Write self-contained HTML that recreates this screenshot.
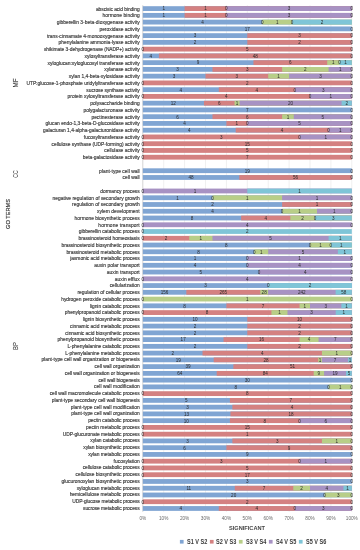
<!DOCTYPE html>
<html><head><meta charset="utf-8"><title>GO terms stacked bar chart</title>
<style>
html,body{margin:0;padding:0;background:#fff;}
body{width:360px;height:550px;overflow:hidden;position:relative;font-family:"Liberation Sans",Arial,sans-serif;}
.g{position:absolute;width:1px;background:#f0f0f0;}
.l{position:absolute;right:220.30px;white-space:nowrap;font-size:4.9px;line-height:5.9px;color:#3d3d3d;letter-spacing:-0.1px;-webkit-text-stroke:0.16px #3d3d3d;}
.b{position:absolute;height:4.8px;}
.d{position:absolute;font-size:4.6px;line-height:5.6px;color:#2a2a2a;white-space:nowrap;transform:translateX(-50%);}
.c0{background:#80a5d3;}.c1{background:#d48181;}.c2{background:#b8ce88;}.c3{background:#a792c3;}.c4{background:#7fc5d7;}
.rot{position:absolute;white-space:nowrap;transform:translate(-50%,-50%) rotate(-90deg);color:#404040;}
.tk{position:absolute;top:515.9px;font-size:4.7px;line-height:5px;color:#6a6a6a;transform:translateX(-50%);white-space:nowrap;}
.lg{position:absolute;top:539.7px;width:3.6px;height:3.6px;}
.lt{position:absolute;top:537.9px;font-size:6.3px;line-height:7px;color:#3a3a3a;font-weight:bold;white-space:nowrap;transform-origin:0 50%;transform:scaleX(0.88);}
</style></head><body>
<svg width="360" height="550" viewBox="0 0 360 550" style="position:absolute;left:0;top:0"><rect x="142.30" y="5.22" width="1" height="506.62" fill="#d4d4d4"/><rect x="163.20" y="5.22" width="1" height="506.62" fill="#f0f0f0"/><rect x="184.10" y="5.22" width="1" height="506.62" fill="#f0f0f0"/><rect x="205.00" y="5.22" width="1" height="506.62" fill="#f0f0f0"/><rect x="225.90" y="5.22" width="1" height="506.62" fill="#f0f0f0"/><rect x="246.80" y="5.22" width="1" height="506.62" fill="#f0f0f0"/><rect x="267.70" y="5.22" width="1" height="506.62" fill="#f0f0f0"/><rect x="288.60" y="5.22" width="1" height="506.62" fill="#f0f0f0"/><rect x="309.50" y="5.22" width="1" height="506.62" fill="#f0f0f0"/><rect x="330.40" y="5.22" width="1" height="506.62" fill="#f0f0f0"/><rect x="351.30" y="5.22" width="1" height="506.62" fill="#f0f0f0"/><rect x="142.80" y="6.20" width="209.00" height="4.8" fill="#80a5d3"/><rect x="184.60" y="6.20" width="167.20" height="4.8" fill="#d48181"/><rect x="226.40" y="6.20" width="125.40" height="4.8" fill="#a792c3"/><rect x="142.80" y="12.96" width="209.00" height="4.8" fill="#80a5d3"/><rect x="184.60" y="12.96" width="167.20" height="4.8" fill="#d48181"/><rect x="226.40" y="12.96" width="125.40" height="4.8" fill="#a792c3"/><rect x="142.80" y="19.71" width="209.00" height="4.8" fill="#80a5d3"/><rect x="262.23" y="19.71" width="89.57" height="4.8" fill="#b8ce88"/><rect x="292.09" y="19.71" width="59.71" height="4.8" fill="#7fc5d7"/><rect x="142.80" y="26.47" width="209.00" height="4.8" fill="#80a5d3"/><rect x="142.80" y="33.22" width="209.00" height="4.8" fill="#80a5d3"/><rect x="247.30" y="33.22" width="104.50" height="4.8" fill="#d48181"/><rect x="142.80" y="39.98" width="209.00" height="4.8" fill="#80a5d3"/><rect x="247.30" y="39.98" width="104.50" height="4.8" fill="#d48181"/><rect x="142.80" y="46.73" width="209.00" height="4.8" fill="#d48181"/><rect x="142.80" y="53.48" width="209.00" height="4.8" fill="#80a5d3"/><rect x="158.88" y="53.48" width="192.92" height="4.8" fill="#d48181"/><rect x="142.80" y="60.24" width="209.00" height="4.8" fill="#80a5d3"/><rect x="253.45" y="60.24" width="98.35" height="4.8" fill="#d48181"/><rect x="327.21" y="60.24" width="24.59" height="4.8" fill="#b8ce88"/><rect x="339.51" y="60.24" width="12.29" height="4.8" fill="#7fc5d7"/><rect x="142.80" y="66.99" width="209.00" height="4.8" fill="#80a5d3"/><rect x="212.47" y="66.99" width="139.33" height="4.8" fill="#d48181"/><rect x="282.13" y="66.99" width="69.67" height="4.8" fill="#b8ce88"/><rect x="328.58" y="66.99" width="23.22" height="4.8" fill="#a792c3"/><rect x="142.80" y="73.75" width="209.00" height="4.8" fill="#80a5d3"/><rect x="205.50" y="73.75" width="146.30" height="4.8" fill="#d48181"/><rect x="268.20" y="73.75" width="83.60" height="4.8" fill="#b8ce88"/><rect x="289.10" y="73.75" width="62.70" height="4.8" fill="#a792c3"/><rect x="142.80" y="80.50" width="209.00" height="4.8" fill="#d48181"/><rect x="142.80" y="87.26" width="209.00" height="4.8" fill="#80a5d3"/><rect x="218.80" y="87.26" width="133.00" height="4.8" fill="#d48181"/><rect x="294.80" y="87.26" width="57.00" height="4.8" fill="#a792c3"/><rect x="142.80" y="94.01" width="209.00" height="4.8" fill="#d48181"/><rect x="310.00" y="94.01" width="41.80" height="4.8" fill="#a792c3"/><rect x="142.80" y="100.77" width="209.00" height="4.8" fill="#80a5d3"/><rect x="203.97" y="100.77" width="147.83" height="4.8" fill="#d48181"/><rect x="234.56" y="100.77" width="117.24" height="4.8" fill="#b8ce88"/><rect x="239.65" y="100.77" width="112.15" height="4.8" fill="#a792c3"/><rect x="341.60" y="100.77" width="10.20" height="4.8" fill="#7fc5d7"/><rect x="142.80" y="107.52" width="209.00" height="4.8" fill="#80a5d3"/><rect x="142.80" y="114.28" width="209.00" height="4.8" fill="#80a5d3"/><rect x="212.47" y="114.28" width="139.33" height="4.8" fill="#d48181"/><rect x="282.13" y="114.28" width="69.67" height="4.8" fill="#b8ce88"/><rect x="293.74" y="114.28" width="58.06" height="4.8" fill="#a792c3"/><rect x="142.80" y="121.03" width="209.00" height="4.8" fill="#80a5d3"/><rect x="226.40" y="121.03" width="125.40" height="4.8" fill="#d48181"/><rect x="247.30" y="121.03" width="104.50" height="4.8" fill="#a792c3"/><rect x="142.80" y="127.79" width="209.00" height="4.8" fill="#80a5d3"/><rect x="235.69" y="127.79" width="116.11" height="4.8" fill="#d48181"/><rect x="328.58" y="127.79" width="23.22" height="4.8" fill="#a792c3"/><rect x="142.80" y="134.54" width="209.00" height="4.8" fill="#d48181"/><rect x="299.55" y="134.54" width="52.25" height="4.8" fill="#a792c3"/><rect x="142.80" y="141.30" width="209.00" height="4.8" fill="#d48181"/><rect x="142.80" y="148.05" width="209.00" height="4.8" fill="#d48181"/><rect x="142.80" y="154.81" width="209.00" height="4.8" fill="#d48181"/><rect x="142.80" y="168.32" width="209.00" height="4.8" fill="#80a5d3"/><rect x="142.80" y="175.07" width="209.00" height="4.8" fill="#80a5d3"/><rect x="239.26" y="175.07" width="112.54" height="4.8" fill="#d48181"/><rect x="142.80" y="188.58" width="209.00" height="4.8" fill="#a792c3"/><rect x="247.30" y="188.58" width="104.50" height="4.8" fill="#7fc5d7"/><rect x="142.80" y="195.34" width="209.00" height="4.8" fill="#80a5d3"/><rect x="212.47" y="195.34" width="139.33" height="4.8" fill="#b8ce88"/><rect x="282.13" y="195.34" width="69.67" height="4.8" fill="#a792c3"/><rect x="142.80" y="202.09" width="209.00" height="4.8" fill="#80a5d3"/><rect x="282.13" y="202.09" width="69.67" height="4.8" fill="#d48181"/><rect x="142.80" y="208.85" width="209.00" height="4.8" fill="#80a5d3"/><rect x="282.13" y="208.85" width="69.67" height="4.8" fill="#b8ce88"/><rect x="316.97" y="208.85" width="34.83" height="4.8" fill="#a792c3"/><rect x="142.80" y="215.60" width="209.00" height="4.8" fill="#80a5d3"/><rect x="241.15" y="215.60" width="110.65" height="4.8" fill="#d48181"/><rect x="290.33" y="215.60" width="61.47" height="4.8" fill="#b8ce88"/><rect x="314.92" y="215.60" width="36.88" height="4.8" fill="#7fc5d7"/><rect x="142.80" y="222.36" width="209.00" height="4.8" fill="#a792c3"/><rect x="142.80" y="229.11" width="209.00" height="4.8" fill="#7fc5d7"/><rect x="142.80" y="235.87" width="209.00" height="4.8" fill="#d48181"/><rect x="189.24" y="235.87" width="162.56" height="4.8" fill="#b8ce88"/><rect x="212.47" y="235.87" width="139.33" height="4.8" fill="#a792c3"/><rect x="328.58" y="235.87" width="23.22" height="4.8" fill="#7fc5d7"/><rect x="142.80" y="242.62" width="209.00" height="4.8" fill="#80a5d3"/><rect x="310.00" y="242.62" width="41.80" height="4.8" fill="#b8ce88"/><rect x="330.90" y="242.62" width="20.90" height="4.8" fill="#7fc5d7"/><rect x="142.80" y="249.38" width="209.00" height="4.8" fill="#80a5d3"/><rect x="254.27" y="249.38" width="97.53" height="4.8" fill="#b8ce88"/><rect x="268.20" y="249.38" width="83.60" height="4.8" fill="#a792c3"/><rect x="337.87" y="249.38" width="13.93" height="4.8" fill="#7fc5d7"/><rect x="142.80" y="256.14" width="209.00" height="4.8" fill="#80a5d3"/><rect x="247.30" y="256.14" width="104.50" height="4.8" fill="#a792c3"/><rect x="142.80" y="262.89" width="209.00" height="4.8" fill="#80a5d3"/><rect x="247.30" y="262.89" width="104.50" height="4.8" fill="#a792c3"/><rect x="142.80" y="269.65" width="209.00" height="4.8" fill="#80a5d3"/><rect x="258.91" y="269.65" width="92.89" height="4.8" fill="#a792c3"/><rect x="142.80" y="276.40" width="209.00" height="4.8" fill="#a792c3"/><rect x="142.80" y="283.16" width="209.00" height="4.8" fill="#80a5d3"/><rect x="268.20" y="283.16" width="83.60" height="4.8" fill="#7fc5d7"/><rect x="142.80" y="289.91" width="209.00" height="4.8" fill="#80a5d3"/><rect x="186.33" y="289.91" width="165.47" height="4.8" fill="#d48181"/><rect x="260.28" y="289.91" width="91.52" height="4.8" fill="#b8ce88"/><rect x="268.09" y="289.91" width="83.71" height="4.8" fill="#a792c3"/><rect x="335.62" y="289.91" width="16.18" height="4.8" fill="#7fc5d7"/><rect x="142.80" y="296.67" width="209.00" height="4.8" fill="#b8ce88"/><rect x="142.80" y="303.42" width="209.00" height="4.8" fill="#80a5d3"/><rect x="226.40" y="303.42" width="125.40" height="4.8" fill="#d48181"/><rect x="299.55" y="303.42" width="52.25" height="4.8" fill="#b8ce88"/><rect x="310.00" y="303.42" width="41.80" height="4.8" fill="#a792c3"/><rect x="341.35" y="303.42" width="10.45" height="4.8" fill="#7fc5d7"/><rect x="142.80" y="310.18" width="209.00" height="4.8" fill="#d48181"/><rect x="271.42" y="310.18" width="80.38" height="4.8" fill="#b8ce88"/><rect x="287.49" y="310.18" width="64.31" height="4.8" fill="#a792c3"/><rect x="335.72" y="310.18" width="16.08" height="4.8" fill="#7fc5d7"/><rect x="142.80" y="316.93" width="209.00" height="4.8" fill="#80a5d3"/><rect x="247.30" y="316.93" width="104.50" height="4.8" fill="#d48181"/><rect x="142.80" y="323.69" width="209.00" height="4.8" fill="#80a5d3"/><rect x="247.30" y="323.69" width="104.50" height="4.8" fill="#d48181"/><rect x="142.80" y="330.44" width="209.00" height="4.8" fill="#80a5d3"/><rect x="247.30" y="330.44" width="104.50" height="4.8" fill="#d48181"/><rect x="142.80" y="337.20" width="209.00" height="4.8" fill="#80a5d3"/><rect x="223.55" y="337.20" width="128.25" height="4.8" fill="#d48181"/><rect x="299.55" y="337.20" width="52.25" height="4.8" fill="#b8ce88"/><rect x="318.55" y="337.20" width="33.25" height="4.8" fill="#a792c3"/><rect x="142.80" y="343.95" width="209.00" height="4.8" fill="#80a5d3"/><rect x="247.30" y="343.95" width="104.50" height="4.8" fill="#d48181"/><rect x="142.80" y="350.71" width="209.00" height="4.8" fill="#80a5d3"/><rect x="202.51" y="350.71" width="149.29" height="4.8" fill="#d48181"/><rect x="321.94" y="350.71" width="29.86" height="4.8" fill="#b8ce88"/><rect x="142.80" y="357.46" width="209.00" height="4.8" fill="#80a5d3"/><rect x="213.71" y="357.46" width="138.09" height="4.8" fill="#d48181"/><rect x="318.21" y="357.46" width="33.59" height="4.8" fill="#b8ce88"/><rect x="321.94" y="357.46" width="29.86" height="4.8" fill="#a792c3"/><rect x="348.07" y="357.46" width="3.73" height="4.8" fill="#7fc5d7"/><rect x="142.80" y="364.22" width="209.00" height="4.8" fill="#80a5d3"/><rect x="233.37" y="364.22" width="118.43" height="4.8" fill="#d48181"/><rect x="142.80" y="370.97" width="209.00" height="4.8" fill="#80a5d3"/><rect x="216.70" y="370.97" width="135.10" height="4.8" fill="#d48181"/><rect x="313.70" y="370.97" width="38.10" height="4.8" fill="#b8ce88"/><rect x="324.09" y="370.97" width="27.71" height="4.8" fill="#a792c3"/><rect x="346.03" y="370.97" width="5.77" height="4.8" fill="#7fc5d7"/><rect x="142.80" y="377.73" width="209.00" height="4.8" fill="#80a5d3"/><rect x="142.80" y="384.48" width="209.00" height="4.8" fill="#80a5d3"/><rect x="328.58" y="384.48" width="23.22" height="4.8" fill="#b8ce88"/><rect x="142.80" y="391.24" width="209.00" height="4.8" fill="#d48181"/><rect x="142.80" y="397.99" width="209.00" height="4.8" fill="#80a5d3"/><rect x="229.88" y="397.99" width="121.92" height="4.8" fill="#d48181"/><rect x="142.80" y="404.75" width="209.00" height="4.8" fill="#80a5d3"/><rect x="232.37" y="404.75" width="119.43" height="4.8" fill="#d48181"/><rect x="142.80" y="411.50" width="209.00" height="4.8" fill="#80a5d3"/><rect x="230.45" y="411.50" width="121.35" height="4.8" fill="#d48181"/><rect x="142.80" y="418.26" width="209.00" height="4.8" fill="#80a5d3"/><rect x="229.88" y="418.26" width="121.92" height="4.8" fill="#d48181"/><rect x="299.55" y="418.26" width="52.25" height="4.8" fill="#a792c3"/><rect x="142.80" y="425.01" width="209.00" height="4.8" fill="#d48181"/><rect x="142.80" y="431.77" width="209.00" height="4.8" fill="#d48181"/><rect x="142.80" y="438.52" width="209.00" height="4.8" fill="#80a5d3"/><rect x="232.37" y="438.52" width="119.43" height="4.8" fill="#d48181"/><rect x="321.94" y="438.52" width="29.86" height="4.8" fill="#b8ce88"/><rect x="142.80" y="445.28" width="209.00" height="4.8" fill="#80a5d3"/><rect x="226.40" y="445.28" width="125.40" height="4.8" fill="#d48181"/><rect x="142.80" y="452.03" width="209.00" height="4.8" fill="#80a5d3"/><rect x="142.80" y="458.79" width="209.00" height="4.8" fill="#d48181"/><rect x="299.55" y="458.79" width="52.25" height="4.8" fill="#a792c3"/><rect x="142.80" y="465.54" width="209.00" height="4.8" fill="#d48181"/><rect x="142.80" y="472.30" width="209.00" height="4.8" fill="#d48181"/><rect x="142.80" y="479.05" width="209.00" height="4.8" fill="#80a5d3"/><rect x="142.80" y="485.81" width="209.00" height="4.8" fill="#80a5d3"/><rect x="234.76" y="485.81" width="117.04" height="4.8" fill="#d48181"/><rect x="293.28" y="485.81" width="58.52" height="4.8" fill="#b8ce88"/><rect x="310.00" y="485.81" width="41.80" height="4.8" fill="#a792c3"/><rect x="343.44" y="485.81" width="8.36" height="4.8" fill="#7fc5d7"/><rect x="142.80" y="492.56" width="209.00" height="4.8" fill="#80a5d3"/><rect x="324.54" y="492.56" width="27.26" height="4.8" fill="#b8ce88"/><rect x="142.80" y="499.32" width="209.00" height="4.8" fill="#d48181"/><rect x="142.80" y="506.07" width="209.00" height="4.8" fill="#80a5d3"/><rect x="218.80" y="506.07" width="133.00" height="4.8" fill="#d48181"/><rect x="294.80" y="506.07" width="57.00" height="4.8" fill="#a792c3"/></svg><div class="l" style="top:7.00px;letter-spacing:-0.054px;right:220.35px">abscisic acid binding</div><div class="d" style="left:163.70px;top:6px">1</div><div class="d" style="left:205.50px;top:6px">1</div><div class="d" style="left:226.40px;top:6px">0</div><div class="d" style="left:289.10px;top:6px">3</div><div class="d" style="left:351.80px;top:6px">0</div><div class="l" style="top:13.00px;letter-spacing:0.061px;right:220.24px">hormone binding</div><div class="d" style="left:163.70px;top:13px">1</div><div class="d" style="left:205.50px;top:13px">1</div><div class="d" style="left:226.40px;top:13px">0</div><div class="d" style="left:289.10px;top:13px">3</div><div class="d" style="left:351.80px;top:13px">0</div><div class="l" style="top:20.00px;letter-spacing:0.003px;right:220.30px">gibberellin 3-beta-dioxygenase activity</div><div class="d" style="left:202.51px;top:20px">4</div><div class="d" style="left:262.23px;top:20px">0</div><div class="d" style="left:277.16px;top:20px">1</div><div class="d" style="left:292.09px;top:20px">0</div><div class="d" style="left:321.94px;top:20px">2</div><div class="l" style="top:27.00px;letter-spacing:0.003px;right:220.30px">peroxidase activity</div><div class="d" style="left:247.30px;top:27px">17</div><div class="d" style="left:351.80px;top:27px">0</div><div class="l" style="top:34.00px;letter-spacing:-0.004px;right:220.30px">trans-cinnamate 4-monooxygenase activity</div><div class="d" style="left:195.05px;top:33px">3</div><div class="d" style="left:299.55px;top:33px">3</div><div class="d" style="left:351.80px;top:33px">0</div><div class="l" style="top:40.00px;letter-spacing:0.005px;right:220.29px">phenylalanine ammonia-lyase activity</div><div class="d" style="left:195.05px;top:40px">2</div><div class="d" style="left:299.55px;top:40px">2</div><div class="d" style="left:351.80px;top:40px">0</div><div class="l" style="top:47.00px;letter-spacing:-0.040px;right:220.34px">shikimate 3-dehydrogenase (NADP+) activity</div><div class="d" style="left:142.80px;top:47px">0</div><div class="d" style="left:247.30px;top:47px">5</div><div class="d" style="left:351.80px;top:47px">0</div><div class="l" style="top:54.00px;letter-spacing:-0.010px;right:220.31px">xylosyltransferase activity</div><div class="d" style="left:150.84px;top:54px">4</div><div class="d" style="left:255.34px;top:54px">48</div><div class="d" style="left:351.80px;top:54px">0</div><div class="l" style="top:61.00px;letter-spacing:-0.019px;right:220.32px">xyloglucan:xyloglucosyl transferase activity</div><div class="d" style="left:198.12px;top:60px">9</div><div class="d" style="left:290.33px;top:60px">6</div><div class="d" style="left:333.36px;top:60px">1</div><div class="d" style="left:339.51px;top:60px">0</div><div class="d" style="left:345.65px;top:60px">1</div><div class="l" style="top:67.00px;letter-spacing:-0.017px;right:220.32px">xylanase activity</div><div class="d" style="left:177.63px;top:67px">3</div><div class="d" style="left:247.30px;top:67px">3</div><div class="d" style="left:305.36px;top:67px">2</div><div class="d" style="left:340.19px;top:67px">1</div><div class="d" style="left:351.80px;top:67px">0</div><div class="l" style="top:74.00px;letter-spacing:-0.017px;right:220.32px">xylan 1,4-beta-xylosidase activity</div><div class="d" style="left:174.15px;top:74px">3</div><div class="d" style="left:236.85px;top:74px">3</div><div class="d" style="left:278.65px;top:74px">1</div><div class="d" style="left:320.45px;top:74px">3</div><div class="d" style="left:351.80px;top:74px">0</div><div class="l" style="top:81.00px;letter-spacing:-0.017px;right:220.32px">UTP:glucose-1-phosphate uridylyltransferase activity</div><div class="d" style="left:142.80px;top:81px">0</div><div class="d" style="left:247.30px;top:81px">2</div><div class="d" style="left:351.80px;top:81px">0</div><div class="l" style="top:88.00px;letter-spacing:-0.040px;right:220.34px">sucrose synthase activity</div><div class="d" style="left:180.80px;top:88px">4</div><div class="d" style="left:256.80px;top:88px">4</div><div class="d" style="left:294.80px;top:88px">0</div><div class="d" style="left:323.30px;top:88px">3</div><div class="d" style="left:351.80px;top:88px">0</div><div class="l" style="top:94.00px;letter-spacing:0.012px;right:220.29px">protein xylosyltransferase activity</div><div class="d" style="left:142.80px;top:94px">0</div><div class="d" style="left:226.40px;top:94px">4</div><div class="d" style="left:310.00px;top:94px">0</div><div class="d" style="left:330.90px;top:94px">1</div><div class="d" style="left:351.80px;top:94px">0</div><div class="l" style="top:101.00px;letter-spacing:-0.012px;right:220.31px">polysaccharide binding</div><div class="d" style="left:173.39px;top:101px">12</div><div class="d" style="left:219.26px;top:101px">6</div><div class="d" style="left:237.10px;top:101px">1</div><div class="d" style="left:290.63px;top:101px">20</div><div class="d" style="left:346.70px;top:101px">2</div><div class="l" style="top:108.00px;letter-spacing:0.006px;right:220.29px">polygalacturonase activity</div><div class="d" style="left:247.30px;top:108px">7</div><div class="d" style="left:351.80px;top:108px">0</div><div class="l" style="top:115.00px;letter-spacing:0.008px;right:220.29px">pectinesterase activity</div><div class="d" style="left:177.63px;top:115px">6</div><div class="d" style="left:247.30px;top:115px">6</div><div class="d" style="left:287.94px;top:115px">1</div><div class="d" style="left:322.77px;top:115px">5</div><div class="d" style="left:351.80px;top:115px">0</div><div class="l" style="top:121.00px;letter-spacing:-0.023px;right:220.32px">glucan endo-1,3-beta-D-glucosidase activity</div><div class="d" style="left:184.60px;top:121px">4</div><div class="d" style="left:236.85px;top:121px">1</div><div class="d" style="left:247.30px;top:121px">0</div><div class="d" style="left:299.55px;top:121px">5</div><div class="d" style="left:351.80px;top:121px">0</div><div class="l" style="top:128.00px;letter-spacing:-0.007px;right:220.31px">galacturan 1,4-alpha-galacturonidase activity</div><div class="d" style="left:189.24px;top:128px">4</div><div class="d" style="left:282.13px;top:128px">4</div><div class="d" style="left:328.58px;top:128px">0</div><div class="d" style="left:340.19px;top:128px">1</div><div class="d" style="left:351.80px;top:128px">0</div><div class="l" style="top:135.00px;letter-spacing:-0.004px;right:220.30px">fucosyltransferase activity</div><div class="d" style="left:142.80px;top:135px">0</div><div class="d" style="left:221.18px;top:135px">3</div><div class="d" style="left:299.55px;top:135px">0</div><div class="d" style="left:325.68px;top:135px">1</div><div class="d" style="left:351.80px;top:135px">0</div><div class="l" style="top:142.00px;letter-spacing:-0.026px;right:220.33px">cellulose synthase (UDP-forming) activity</div><div class="d" style="left:142.80px;top:142px">0</div><div class="d" style="left:247.30px;top:142px">15</div><div class="d" style="left:351.80px;top:142px">0</div><div class="l" style="top:148.00px;letter-spacing:0.004px;right:220.30px">cellulase activity</div><div class="d" style="left:142.80px;top:148px">0</div><div class="d" style="left:247.30px;top:148px">5</div><div class="d" style="left:351.80px;top:148px">0</div><div class="l" style="top:155.00px;letter-spacing:-0.015px;right:220.31px">beta-galactosidase activity</div><div class="d" style="left:142.80px;top:155px">0</div><div class="d" style="left:247.30px;top:155px">7</div><div class="d" style="left:351.80px;top:155px">0</div><div class="l" style="top:169.00px;letter-spacing:0.037px;right:220.26px">plant-type cell wall</div><div class="d" style="left:247.30px;top:169px">19</div><div class="d" style="left:351.80px;top:169px">0</div><div class="l" style="top:175.00px;letter-spacing:0.019px;right:220.28px">cell wall</div><div class="d" style="left:191.03px;top:175px">48</div><div class="d" style="left:295.53px;top:175px">56</div><div class="d" style="left:351.80px;top:175px">0</div><div class="l" style="top:189.00px;letter-spacing:-0.041px;right:220.34px">dormancy process</div><div class="d" style="left:142.80px;top:189px">0</div><div class="d" style="left:195.05px;top:189px">1</div><div class="d" style="left:299.55px;top:189px">1</div><div class="l" style="top:196.00px;letter-spacing:0.012px;right:220.29px">negative regulation of secondary growth</div><div class="d" style="left:177.63px;top:196px">1</div><div class="d" style="left:212.47px;top:196px">0</div><div class="d" style="left:247.30px;top:196px">1</div><div class="d" style="left:316.97px;top:196px">1</div><div class="d" style="left:351.80px;top:196px">0</div><div class="l" style="top:202.00px;letter-spacing:0.027px;right:220.27px">regulation of secondary growth</div><div class="d" style="left:212.47px;top:202px">2</div><div class="d" style="left:316.97px;top:202px">1</div><div class="d" style="left:351.80px;top:202px">0</div><div class="l" style="top:209.00px;letter-spacing:0.035px;right:220.26px">xylem development</div><div class="d" style="left:212.47px;top:209px">4</div><div class="d" style="left:282.13px;top:209px">0</div><div class="d" style="left:299.55px;top:209px">1</div><div class="d" style="left:334.38px;top:209px">1</div><div class="d" style="left:351.80px;top:209px">0</div><div class="l" style="top:216.00px;letter-spacing:0.007px;right:220.29px">hormone biosynthetic process</div><div class="d" style="left:191.98px;top:216px">8</div><div class="d" style="left:265.74px;top:216px">4</div><div class="d" style="left:302.62px;top:216px">2</div><div class="d" style="left:314.92px;top:216px">0</div><div class="d" style="left:333.36px;top:216px">3</div><div class="l" style="top:223.00px;letter-spacing:0.087px;right:220.21px">hormone transport</div><div class="d" style="left:142.80px;top:223px">0</div><div class="d" style="left:247.30px;top:223px">4</div><div class="d" style="left:351.80px;top:223px">0</div><div class="l" style="top:229.00px;letter-spacing:-0.017px;right:220.32px">gibberellin catabolic process</div><div class="d" style="left:142.80px;top:229px">0</div><div class="d" style="left:247.30px;top:229px">2</div><div class="l" style="top:236.00px;letter-spacing:-0.029px;right:220.33px">brassinosteroid homeostasis</div><div class="d" style="left:142.80px;top:236px">0</div><div class="d" style="left:166.02px;top:236px">2</div><div class="d" style="left:200.86px;top:236px">1</div><div class="d" style="left:270.52px;top:236px">5</div><div class="d" style="left:340.19px;top:236px">1</div><div class="l" style="top:243.00px;letter-spacing:-0.016px;right:220.32px">brassinosteroid biosynthetic process</div><div class="d" style="left:226.40px;top:243px">8</div><div class="d" style="left:310.00px;top:243px">0</div><div class="d" style="left:320.45px;top:243px">1</div><div class="d" style="left:330.90px;top:243px">0</div><div class="d" style="left:341.35px;top:243px">1</div><div class="l" style="top:250.00px;letter-spacing:-0.019px;right:220.32px">brassinosteroid metabolic process</div><div class="d" style="left:198.53px;top:250px">8</div><div class="d" style="left:254.27px;top:250px">0</div><div class="d" style="left:261.23px;top:250px">1</div><div class="d" style="left:303.03px;top:250px">5</div><div class="d" style="left:344.83px;top:250px">1</div><div class="l" style="top:256.00px;letter-spacing:-0.030px;right:220.33px">jasmonic acid metabolic process</div><div class="d" style="left:195.05px;top:256px">1</div><div class="d" style="left:247.30px;top:256px">0</div><div class="d" style="left:299.55px;top:256px">1</div><div class="d" style="left:351.80px;top:256px">0</div><div class="l" style="top:263.00px;letter-spacing:0.045px;right:220.25px">auxin polar transport</div><div class="d" style="left:195.05px;top:263px">4</div><div class="d" style="left:247.30px;top:263px">0</div><div class="d" style="left:299.55px;top:263px">4</div><div class="d" style="left:351.80px;top:263px">0</div><div class="l" style="top:270.00px;letter-spacing:0.051px;right:220.25px">auxin transport</div><div class="d" style="left:200.86px;top:270px">5</div><div class="d" style="left:258.91px;top:270px">0</div><div class="d" style="left:305.36px;top:270px">4</div><div class="d" style="left:351.80px;top:270px">0</div><div class="l" style="top:277.00px;letter-spacing:0.019px;right:220.28px">auxin efflux</div><div class="d" style="left:142.80px;top:277px">0</div><div class="d" style="left:247.30px;top:277px">4</div><div class="d" style="left:351.80px;top:277px">0</div><div class="l" style="top:283.00px;letter-spacing:0.031px;right:220.27px">cellularization</div><div class="d" style="left:205.50px;top:283px">3</div><div class="d" style="left:268.20px;top:283px">0</div><div class="d" style="left:310.00px;top:283px">2</div><div class="l" style="top:290.00px;letter-spacing:-0.000px;right:220.30px">regulation of cellular process</div><div class="d" style="left:164.57px;top:290px">156</div><div class="d" style="left:223.30px;top:290px">265</div><div class="d" style="left:264.18px;top:290px">28</div><div class="d" style="left:301.85px;top:290px">242</div><div class="d" style="left:343.71px;top:290px">58</div><div class="l" style="top:297.00px;letter-spacing:-0.034px;right:220.33px">hydrogen peroxide catabolic process</div><div class="d" style="left:142.80px;top:297px">0</div><div class="d" style="left:247.30px;top:297px">1</div><div class="d" style="left:351.80px;top:297px">0</div><div class="l" style="top:304.00px;letter-spacing:-0.031px;right:220.33px">lignin catabolic process</div><div class="d" style="left:184.60px;top:304px">8</div><div class="d" style="left:262.98px;top:304px">7</div><div class="d" style="left:304.77px;top:304px">1</div><div class="d" style="left:325.68px;top:304px">3</div><div class="d" style="left:346.58px;top:304px">1</div><div class="l" style="top:310.00px;letter-spacing:-0.010px;right:220.31px">phenylpropanoid catabolic process</div><div class="d" style="left:142.80px;top:310px">0</div><div class="d" style="left:207.11px;top:310px">8</div><div class="d" style="left:279.45px;top:310px">1</div><div class="d" style="left:311.61px;top:310px">3</div><div class="d" style="left:343.76px;top:310px">1</div><div class="l" style="top:317.00px;letter-spacing:-0.005px;right:220.30px">lignin biosynthetic process</div><div class="d" style="left:195.05px;top:317px">10</div><div class="d" style="left:299.55px;top:317px">10</div><div class="d" style="left:351.80px;top:317px">0</div><div class="l" style="top:324.00px;letter-spacing:-0.026px;right:220.33px">cinnamic acid metabolic process</div><div class="d" style="left:195.05px;top:324px">2</div><div class="d" style="left:299.55px;top:324px">2</div><div class="d" style="left:351.80px;top:324px">0</div><div class="l" style="top:331.00px;letter-spacing:-0.023px;right:220.32px">cinnamic acid biosynthetic process</div><div class="d" style="left:195.05px;top:331px">2</div><div class="d" style="left:299.55px;top:331px">2</div><div class="d" style="left:351.80px;top:331px">0</div><div class="l" style="top:337.00px;letter-spacing:0.008px;right:220.29px">phenylpropanoid biosynthetic process</div><div class="d" style="left:183.18px;top:337px">17</div><div class="d" style="left:261.55px;top:337px">16</div><div class="d" style="left:309.05px;top:337px">4</div><div class="d" style="left:335.18px;top:337px">7</div><div class="d" style="left:351.80px;top:337px">0</div><div class="l" style="top:344.00px;letter-spacing:-0.043px;right:220.34px">L-phenylalanine catabolic process</div><div class="d" style="left:195.05px;top:344px">2</div><div class="d" style="left:299.55px;top:344px">2</div><div class="d" style="left:351.80px;top:344px">0</div><div class="l" style="top:351.00px;letter-spacing:-0.026px;right:220.33px">L-phenylalanine metabolic process</div><div class="d" style="left:172.66px;top:351px">2</div><div class="d" style="left:262.23px;top:351px">4</div><div class="d" style="left:336.87px;top:351px">1</div><div class="d" style="left:351.80px;top:351px">0</div><div class="l" style="top:357.00px;letter-spacing:-0.002px;right:220.30px">plant-type cell wall organization or biogenesis</div><div class="d" style="left:178.26px;top:358px">19</div><div class="d" style="left:265.96px;top:358px">28</div><div class="d" style="left:320.08px;top:358px">1</div><div class="d" style="left:335.01px;top:358px">7</div><div class="d" style="left:349.93px;top:358px">1</div><div class="l" style="top:364.00px;letter-spacing:-0.001px;right:220.30px">cell wall organization</div><div class="d" style="left:188.08px;top:364px">39</div><div class="d" style="left:292.58px;top:364px">51</div><div class="d" style="left:351.80px;top:364px">0</div><div class="l" style="top:371.00px;letter-spacing:-0.018px;right:220.32px">cell wall organization or biogenesis</div><div class="d" style="left:179.75px;top:371px">64</div><div class="d" style="left:265.20px;top:371px">84</div><div class="d" style="left:318.89px;top:371px">9</div><div class="d" style="left:335.06px;top:371px">19</div><div class="d" style="left:348.91px;top:371px">5</div><div class="l" style="top:378.00px;letter-spacing:-0.033px;right:220.33px">cell wall biogenesis</div><div class="d" style="left:247.30px;top:378px">30</div><div class="d" style="left:351.80px;top:378px">0</div><div class="l" style="top:384.00px;letter-spacing:0.051px;right:220.25px">cell wall modification</div><div class="d" style="left:235.69px;top:385px">8</div><div class="d" style="left:328.58px;top:385px">0</div><div class="d" style="left:340.19px;top:385px">1</div><div class="d" style="left:351.80px;top:385px">0</div><div class="l" style="top:391.00px;letter-spacing:-0.019px;right:220.32px">cell wall macromolecule catabolic process</div><div class="d" style="left:142.80px;top:391px">0</div><div class="d" style="left:247.30px;top:391px">8</div><div class="d" style="left:351.80px;top:391px">0</div><div class="l" style="top:398.00px;letter-spacing:-0.016px;right:220.32px">plant-type secondary cell wall biogenesis</div><div class="d" style="left:186.34px;top:398px">5</div><div class="d" style="left:290.84px;top:398px">7</div><div class="d" style="left:351.80px;top:398px">0</div><div class="l" style="top:405.00px;letter-spacing:0.051px;right:220.25px">plant-type cell wall modification</div><div class="d" style="left:187.59px;top:405px">3</div><div class="d" style="left:292.09px;top:405px">4</div><div class="d" style="left:351.80px;top:405px">0</div><div class="l" style="top:411.00px;letter-spacing:0.017px;right:220.28px">plant-type cell wall organization</div><div class="d" style="left:186.62px;top:412px">13</div><div class="d" style="left:291.12px;top:412px">18</div><div class="d" style="left:351.80px;top:412px">0</div><div class="l" style="top:418.00px;letter-spacing:-0.028px;right:220.33px">pectin catabolic process</div><div class="d" style="left:186.34px;top:419px">10</div><div class="d" style="left:264.72px;top:419px">8</div><div class="d" style="left:299.55px;top:419px">0</div><div class="d" style="left:325.68px;top:419px">6</div><div class="d" style="left:351.80px;top:419px">0</div><div class="l" style="top:425.00px;letter-spacing:-0.005px;right:220.30px">pectin metabolic process</div><div class="d" style="left:142.80px;top:425px">0</div><div class="d" style="left:247.30px;top:425px">15</div><div class="d" style="left:351.80px;top:425px">0</div><div class="l" style="top:432.00px;letter-spacing:-0.041px;right:220.34px">UDP-glucuronate metabolic process</div><div class="d" style="left:142.80px;top:432px">0</div><div class="d" style="left:247.30px;top:432px">1</div><div class="d" style="left:351.80px;top:432px">0</div><div class="l" style="top:438.00px;letter-spacing:-0.054px;right:220.35px">xylan catabolic process</div><div class="d" style="left:187.59px;top:439px">3</div><div class="d" style="left:277.16px;top:439px">3</div><div class="d" style="left:336.87px;top:439px">1</div><div class="d" style="left:351.80px;top:439px">0</div><div class="l" style="top:445.00px;letter-spacing:-0.024px;right:220.32px">xylan biosynthetic process</div><div class="d" style="left:184.60px;top:446px">6</div><div class="d" style="left:289.10px;top:446px">9</div><div class="d" style="left:351.80px;top:446px">0</div><div class="l" style="top:452.00px;letter-spacing:-0.030px;right:220.33px">xylan metabolic process</div><div class="d" style="left:247.30px;top:452px">9</div><div class="d" style="left:351.80px;top:452px">0</div><div class="l" style="top:459.00px;letter-spacing:0.026px;right:220.27px">fucosylation</div><div class="d" style="left:142.80px;top:459px">0</div><div class="d" style="left:221.18px;top:459px">3</div><div class="d" style="left:299.55px;top:459px">0</div><div class="d" style="left:325.68px;top:459px">1</div><div class="d" style="left:351.80px;top:459px">0</div><div class="l" style="top:465.00px;letter-spacing:-0.046px;right:220.35px">cellulose catabolic process</div><div class="d" style="left:142.80px;top:466px">0</div><div class="d" style="left:247.30px;top:466px">5</div><div class="d" style="left:351.80px;top:466px">0</div><div class="l" style="top:472.00px;letter-spacing:-0.021px;right:220.32px">cellulose biosynthetic process</div><div class="d" style="left:142.80px;top:473px">0</div><div class="d" style="left:247.30px;top:473px">17</div><div class="d" style="left:351.80px;top:473px">0</div><div class="l" style="top:479.00px;letter-spacing:-0.013px;right:220.31px">glucuronoxylan biosynthetic process</div><div class="d" style="left:247.30px;top:479px">3</div><div class="d" style="left:351.80px;top:479px">0</div><div class="l" style="top:486.00px;letter-spacing:-0.030px;right:220.33px">xyloglucan metabolic process</div><div class="d" style="left:188.78px;top:486px">11</div><div class="d" style="left:264.02px;top:486px">7</div><div class="d" style="left:301.64px;top:486px">2</div><div class="d" style="left:326.72px;top:486px">4</div><div class="d" style="left:347.62px;top:486px">1</div><div class="l" style="top:492.00px;letter-spacing:-0.011px;right:220.31px">hemicellulose metabolic process</div><div class="d" style="left:233.67px;top:493px">20</div><div class="d" style="left:324.54px;top:493px">0</div><div class="d" style="left:338.17px;top:493px">3</div><div class="d" style="left:351.80px;top:493px">0</div><div class="l" style="top:499.00px;letter-spacing:-0.077px;right:220.38px">UDP-glucose metabolic process</div><div class="d" style="left:142.80px;top:500px">0</div><div class="d" style="left:247.30px;top:500px">2</div><div class="d" style="left:351.80px;top:500px">0</div><div class="l" style="top:506.00px;letter-spacing:-0.050px;right:220.35px">sucrose metabolic process</div><div class="d" style="left:180.80px;top:506px">4</div><div class="d" style="left:256.80px;top:506px">4</div><div class="d" style="left:294.80px;top:506px">0</div><div class="d" style="left:323.30px;top:506px">3</div><div class="d" style="left:351.80px;top:506px">0</div><div class="tk" style="left:142.80px">0%</div><div class="tk" style="left:163.70px">10%</div><div class="tk" style="left:184.60px">20%</div><div class="tk" style="left:205.50px">30%</div><div class="tk" style="left:226.40px">40%</div><div class="tk" style="left:247.30px">50%</div><div class="tk" style="left:268.20px">60%</div><div class="tk" style="left:289.10px">70%</div><div class="tk" style="left:310.00px">80%</div><div class="tk" style="left:330.90px">90%</div><div class="tk" style="left:351.80px">100%</div><div style="position:absolute;left:247.3px;top:524.8px;transform:translateX(-50%) scaleX(0.94);font-size:6.0px;line-height:7px;font-weight:bold;color:#454545;white-space:nowrap">SIGNIFICANT</div><svg width="6" height="6" style="position:absolute;left:179.00px;top:538.7px"><rect x="0.9" y="0.9" width="3.7" height="3.7" fill="#80a5d3"/></svg><div class="lt" style="left:186.60px">S1 V S2</div><svg width="6" height="6" style="position:absolute;left:208.80px;top:538.7px"><rect x="0.9" y="0.9" width="3.7" height="3.7" fill="#d48181"/></svg><div class="lt" style="left:216.40px">S2 V S3</div><svg width="6" height="6" style="position:absolute;left:238.40px;top:538.7px"><rect x="0.9" y="0.9" width="3.7" height="3.7" fill="#b8ce88"/></svg><div class="lt" style="left:246.00px">S3 V S4</div><svg width="6" height="6" style="position:absolute;left:268.20px;top:538.7px"><rect x="0.9" y="0.9" width="3.7" height="3.7" fill="#a792c3"/></svg><div class="lt" style="left:275.80px">S4 V S5</div><svg width="6" height="6" style="position:absolute;left:297.90px;top:538.7px"><rect x="0.9" y="0.9" width="3.7" height="3.7" fill="#7fc5d7"/></svg><div class="lt" style="left:305.50px">S5 V S6</div><div class="rot" style="left:14.5px;top:83.0px;font-size:6.6px;line-height:7px;-webkit-text-stroke:0.12px #333;color:#333"><span style="display:inline-block;transform:scaleX(0.95)">MF</span></div><div class="rot" style="left:15.0px;top:173.5px;font-size:6.8px;line-height:7px;color:#444;-webkit-text-stroke:0.05px #444"><span style="display:inline-block;transform:scaleX(0.74)">CC</span></div><div class="rot" style="left:15.0px;top:345.9px;font-size:6.8px;line-height:7px;-webkit-text-stroke:0.1px #444;color:#444"><span style="display:inline-block;transform:scaleX(0.86)">BP</span></div><div class="rot" style="left:7.6px;top:213.5px;font-size:5.65px;line-height:6px;color:#3c3c3c;-webkit-text-stroke:0.18px #3c3c3c">GO TERMS</div></body></html>
